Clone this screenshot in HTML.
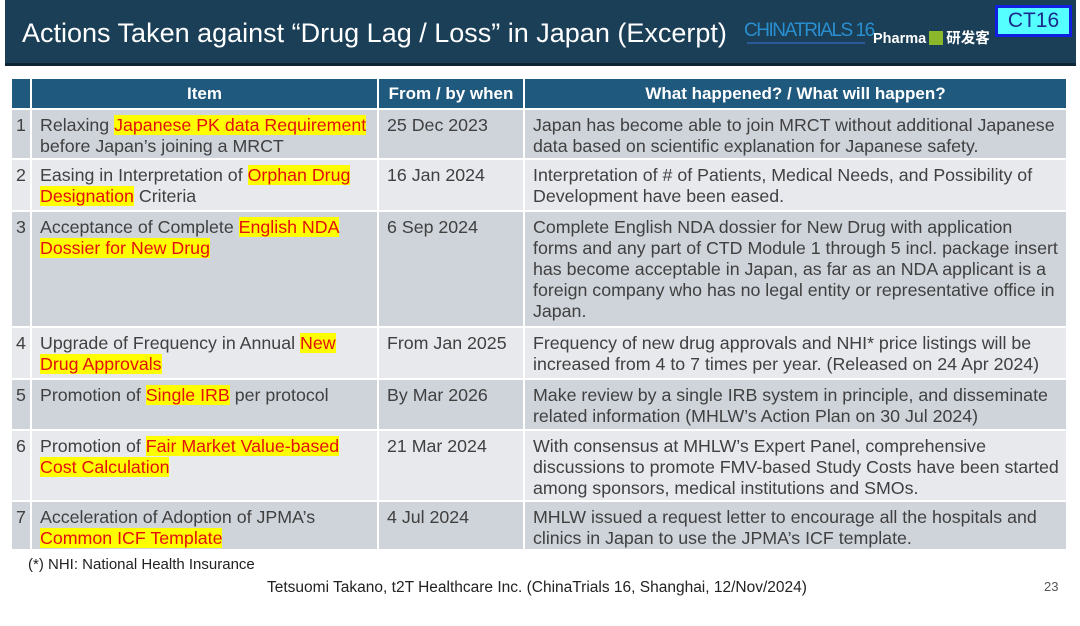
<!DOCTYPE html>
<html><head><meta charset="utf-8"><style>
*{margin:0;padding:0;box-sizing:border-box}
body{width:1080px;height:626px;background:#fff;font-family:"Liberation Sans","Noto Sans CJK SC",sans-serif;position:relative;overflow:hidden}
#hdr{position:absolute;left:5px;top:0;width:1071px;height:66px;background:#1b3f57;border-bottom:3px solid #0e2536}
#title{position:absolute;left:17px;top:18px;color:#fff;font-size:27px}
#ct{position:absolute;left:739px;top:20px;color:#2a8fd0;font-size:19px;letter-spacing:-1.5px}
#ct2{position:absolute;left:742px;top:42px;width:118px;height:2px;background:#2a5a9a}
#ph{position:absolute;left:868px;top:27px;color:#fff;font-size:14.5px;font-weight:bold}
#ph span{display:inline-block;background:#8ab82a;width:14px;height:14px;vertical-align:-2px;margin:0 3px}
#box{position:absolute;left:995px;top:5px;width:77px;height:32px;background:#5ff;border:3px solid #1020e0;color:#1a2a8a;font-size:21px;text-align:center;line-height:26px}
table{position:absolute;left:10px;top:77px;width:1058px;border-collapse:collapse;font-size:17.8px;color:#404040;table-layout:fixed}
td,th{border:2px solid #fff;vertical-align:top;line-height:21px;padding:5px 6px 0 8px}
th{background:#1f5a7e;color:#fff;font-weight:bold;text-align:center;height:31px;padding:3px 4px;vertical-align:middle;font-size:17px}
tr.a td{background:#cfd4db}
tr.b td{background:#e7e9ed}
td.n{text-align:center;padding:5px 0 0 0}
.h{background:#ff0;color:#e21010}
#fn{position:absolute;left:28px;top:556px;font-size:15px;color:#222}
#ft{position:absolute;left:267px;top:579px;font-size:15.5px;color:#222}
#pg{position:absolute;left:1044px;top:579px;font-size:13px;color:#555}
</style></head><body>
<div id="hdr"><div id="title">Actions Taken against “Drug Lag / Loss” in Japan (Excerpt)</div>
<div id="ct">CHINATRIALS 16</div><div id="ct2"></div><div id="ph">Pharma<span></span>研发客</div></div>
<div id="box">CT16</div>
<table>
<colgroup><col style="width:20px"><col style="width:347px"><col style="width:146px"><col></colgroup>
<tr><th></th><th>Item</th><th>From / by when</th><th>What happened? / What will happen?</th></tr>
<tr class="a" style="height:50px"><td class="n">1</td><td>Relaxing <span class="h">Japanese PK data Requirement</span> before Japan’s joining a MRCT</td><td>25 Dec 2023</td><td>Japan has become able to join MRCT without additional Japanese data based on scientific explanation for Japanese safety.</td></tr>
<tr class="b" style="height:52px"><td class="n">2</td><td>Easing in Interpretation of <span class="h">Orphan Drug</span> <span class="h">Designation</span> Criteria</td><td>16 Jan 2024</td><td>Interpretation of # of Patients, Medical Needs, and Possibility of Development have been eased.</td></tr>
<tr class="a" style="height:116px"><td class="n">3</td><td>Acceptance of Complete <span class="h">English NDA Dossier for New Drug</span></td><td>6 Sep 2024</td><td>Complete English NDA dossier for New Drug with application forms and any part of CTD Module 1 through 5 incl. package insert has become acceptable in Japan, as far as an NDA applicant is a foreign company who has no legal entity or representative office in Japan.</td></tr>
<tr class="b" style="height:52px"><td class="n">4</td><td>Upgrade of Frequency in Annual <span class="h">New Drug Approvals</span></td><td>From Jan 2025</td><td>Frequency of new drug approvals and NHI* price listings will be increased from 4 to 7 times per year. (Released on 24 Apr 2024)</td></tr>
<tr class="a" style="height:51px"><td class="n">5</td><td>Promotion of <span class="h">Single IRB</span> per protocol</td><td>By Mar 2026</td><td>Make review by a single IRB system in principle, and disseminate related information (MHLW’s Action Plan on 30 Jul 2024)</td></tr>
<tr class="b" style="height:71px"><td class="n">6</td><td>Promotion of <span class="h">Fair Market Value-based Cost Calculation</span></td><td>21 Mar 2024</td><td>With consensus at MHLW’s Expert Panel, comprehensive discussions to promote FMV-based Study Costs have been started among sponsors, medical institutions and SMOs.</td></tr>
<tr class="a" style="height:49px"><td class="n">7</td><td>Acceleration of Adoption of JPMA’s <span class="h">Common ICF Template</span></td><td>4 Jul 2024</td><td>MHLW issued a request letter to encourage all the hospitals and clinics in Japan to use the JPMA’s ICF template.</td></tr>
</table>
<div id="fn">(*) NHI: National Health Insurance</div>
<div id="ft">Tetsuomi Takano, t2T Healthcare Inc. (ChinaTrials 16, Shanghai, 12/Nov/2024)</div>
<div id="pg">23</div>
</body></html>
